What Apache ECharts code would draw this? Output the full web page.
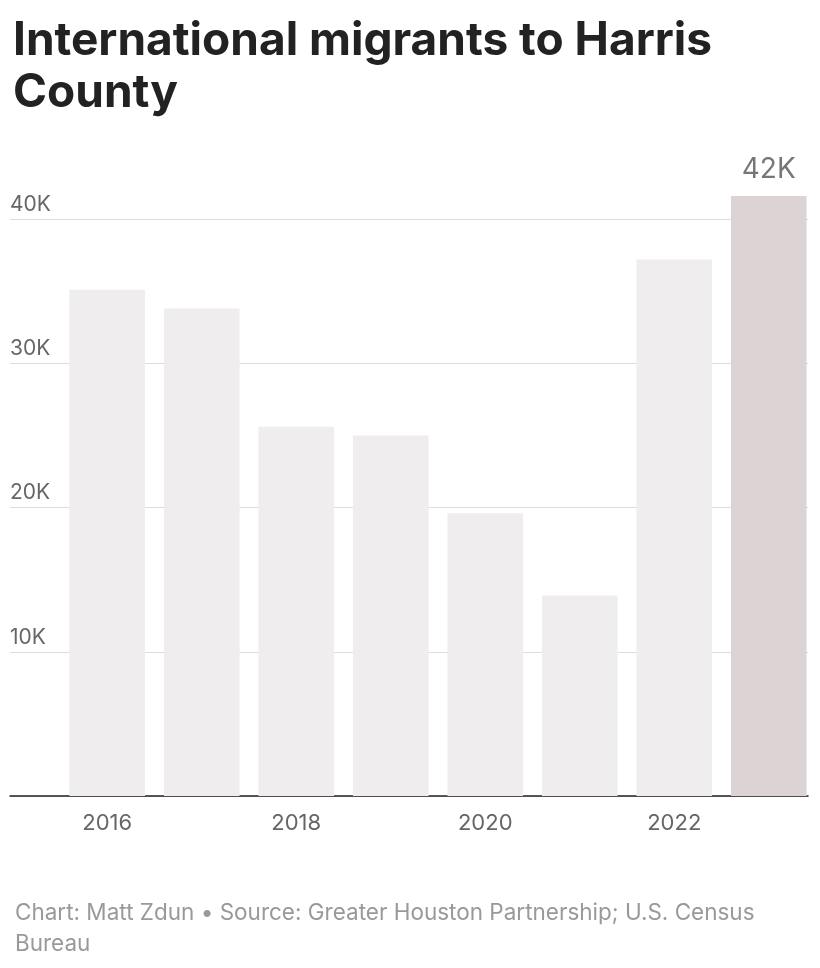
<!DOCTYPE html>
<html><head><meta charset="utf-8">
<script src="https://cdn.jsdelivr.net/npm/echarts@6/dist/echarts.min.js"></script>
<style>html,body{margin:0;background:#fff}#c{width:820px;height:968px}</style>
</head><body><div id="c"></div>
<script>
const years=['2016','2017','2018','2019','2020','2021','2022','2023'];
const migrants=[35100,33800,25600,25000,19600,13900,37200,41600];
const yTicks=[0,10000,20000,30000,40000];
const chart=echarts.init(document.getElementById('c'));
const F='Inter, "Noto Sans", sans-serif';
chart.setOption({
  animation:false,
  title:[{text:'International migrants to Harris\nCounty',left:8,top:10,textStyle:{fontFamily:F,fontSize:46,fontWeight:'bold',color:'#222',lineHeight:52}},
    {text:'Chart: Matt Zdun • Source: Greater Houston Partnership; U.S. Census Bureau',left:10,top:893,textStyle:{fontFamily:F,fontSize:22.5,fontWeight:'normal',color:'#999',lineHeight:31,width:780,overflow:'break'}}],
  grid:[{left:60,right:4,top:219,bottom:172},{left:10,right:12,top:219,bottom:172}],
  xAxis:[{type:'category',data:years,gridIndex:0,axisTick:{show:false},axisLine:{show:false},
    axisLabel:{fontFamily:F,fontSize:22,color:'#666',margin:16,formatter:(v,i)=>i%2===0?v:''}},
    {type:'category',data:[''],gridIndex:1,axisTick:{show:false},axisLabel:{show:false},axisLine:{lineStyle:{color:'#222',width:1.5}}}],
  yAxis:[{type:'value',gridIndex:0,min:0,max:40000,interval:10000,show:false},
    {type:'value',gridIndex:1,min:0,max:40000,interval:10000,axisLine:{show:false},axisTick:{show:false},
      splitLine:{lineStyle:{color:'#ddd'}},
      axisLabel:{inside:true,margin:0,verticalAlign:'bottom',padding:[0,0,4,0],fontFamily:F,fontSize:21,color:'#666',
        formatter:v=>yTicks.includes(v)&&v>0?(v/1000)+'K':''}}],
  series:[{type:'bar',xAxisIndex:0,yAxisIndex:0,barCategoryGap:'20%',z:3,clip:false,
    data:migrants.map((v,i)=>({value:v,itemStyle:{color:i===migrants.length-1?'#dbd3d4':'#efedee'},
      label:{show:i===migrants.length-1,position:'top',distance:12,formatter:p=>Math.round(p.value/1000)+'K',fontFamily:F,fontSize:28,color:'#777'}}))}]
});
</script></body></html>
